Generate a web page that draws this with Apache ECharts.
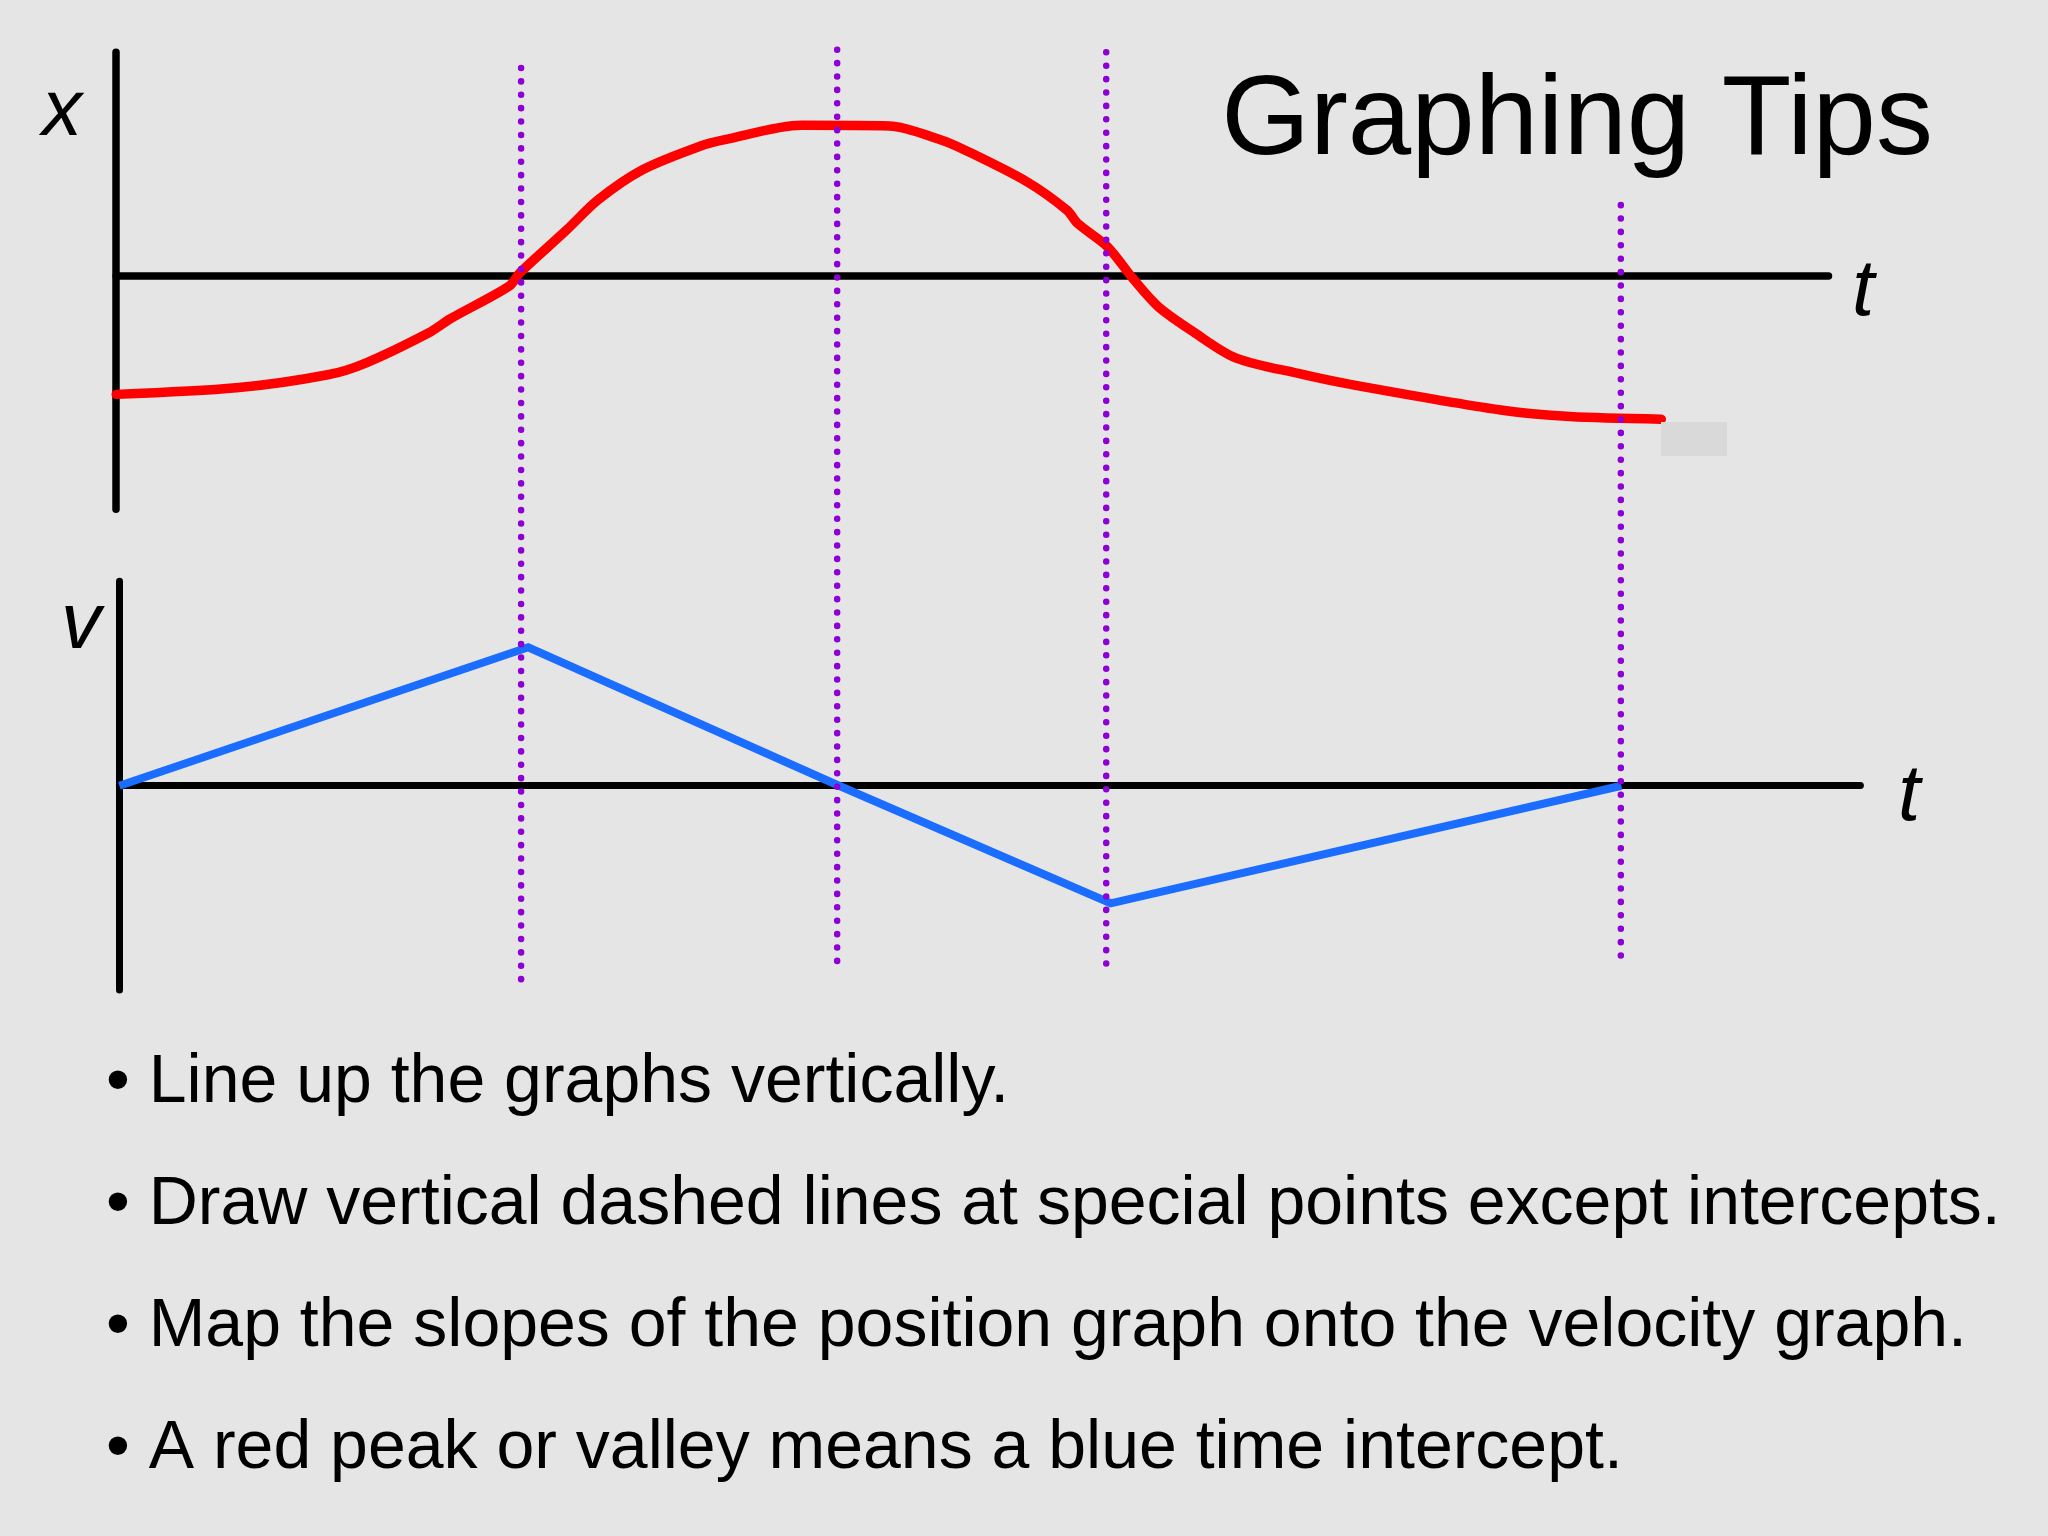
<!DOCTYPE html>
<html>
<head>
<meta charset="utf-8">
<script src="https://cdn.jsdelivr.net/npm/echarts@6/dist/echarts.min.js"></script>
<style>
html,body{margin:0;padding:0;background:#e5e5e5;}
#chart{width:2048px;height:1536px;}
</style>
</head>
<body>
<div id="chart"></div>
<script>
// Position graph (x vs t)
const posT = [0, 0.92, 1.62, 1.91, 2.39, 2.56, 3.01, 3.09, 3.45, 3.69, 4.03, 4.47, 4.66, 5.25, 5.92, 6.31, 6.50, 6.97, 7.28, 7.36, 7.59, 7.79, 7.98, 8.26, 8.57, 9.05, 9.43, 10.60, 11.13, 11.83];
const posX = [-0.91, -0.86, -0.76, -0.67, -0.44, -0.33, -0.08, 0.02, 0.35, 0.58, 0.81, 0.99, 1.04, 1.15, 1.145, 1.04, 0.96, 0.72, 0.50, 0.40, 0.22, -0.03, -0.24, -0.44, -0.63, -0.75, -0.83, -1.03, -1.08, -1.10];
// Velocity graph (v vs t)
const velT = [0, 3.13, 5.51, 7.59, 11.50];
const velV = [0, 1.06, 0, -0.90, 0];
// Vertical dotted guide lines (t, top, bottom) in position-graph units
const guideT = [3.10, 5.52, 7.58, 11.52];
const guideTop = [1.59, 1.73, 1.71, 0.54];
const guideBottom = [-5.44, -5.29, -5.34, -5.27];
// Texts
const titleText = 'Graphing Tips';
const bullets = [
  '\u2022 Line up the graphs vertically.',
  '\u2022 Draw vertical dashed lines at special points except intercepts.',
  '\u2022 Map the slopes of the position graph onto the velocity graph.',
  '\u2022 A red peak or valley means a blue time intercept.'
];
const axisLabels = {x: 'x', v: 'v', t: 't'};

const FONT = '"Liberation Sans", Arial, sans-serif';
const chart = echarts.init(document.getElementById('chart'));

const hiddenAxis = (extra) => Object.assign({
  axisTick: {show: false}, axisLabel: {show: false}, splitLine: {show: false}
}, extra);
const blackLine = (w) => ({show: true, onZero: true, lineStyle: {color: '#000', width: w}});

const series = [
  {
    type: 'line', xAxisIndex: 0, yAxisIndex: 0, z: 3,
    data: posT.map((t, i) => [t, posX[i]]),
    smooth: 0.3, showSymbol: false,
    lineStyle: {color: '#ff0000', width: 9.5, cap: 'round', join: 'round'}
  },
  {
    type: 'line', xAxisIndex: 1, yAxisIndex: 1, z: 3,
    data: velT.map((t, i) => [t, velV[i]]),
    showSymbol: false,
    lineStyle: {color: '#1a6dff', width: 8, join: 'miter'}
  }
];
guideT.forEach((t, i) => {
  series.push({
    type: 'line', xAxisIndex: 2, yAxisIndex: 2, z: 5,
    data: [[t, guideTop[i]], [t, guideBottom[i]]],
    showSymbol: false,
    lineStyle: {color: '#8e00d4', width: 6.5, type: [0.1, 13.3], cap: 'round'}
  });
});

const graphics = [
  {type: 'rect', shape: {x: 1661, y: 422, width: 66, height: 34}, style: {fill: '#d9d9d9'}, z: 10},
  {type: 'text', x: 1933, y: 123, style: {text: titleText, font: '114px ' + FONT, fill: '#000', textAlign: 'right', textVerticalAlign: 'middle'}},
  {type: 'text', x: 42, y: 113, style: {text: axisLabels.x, font: 'italic 80px ' + FONT, fill: '#000', textAlign: 'left', textVerticalAlign: 'middle'}},
  {type: 'text', x: 61, y: 626, style: {text: axisLabels.v, font: 'italic 80px ' + FONT, fill: '#000', textAlign: 'left', textVerticalAlign: 'middle'}},
  {type: 'text', x: 1852, y: 293, style: {text: axisLabels.t, font: 'italic 80px ' + FONT, fill: '#000', textAlign: 'left', textVerticalAlign: 'middle'}},
  {type: 'text', x: 1898, y: 798, style: {text: axisLabels.t, font: 'italic 80px ' + FONT, fill: '#000', textAlign: 'left', textVerticalAlign: 'middle'}}
];
const bulletY = [1083, 1205, 1327, 1449];
bullets.forEach((b, i) => {
  graphics.push({type: 'text', x: 106, y: bulletY[i], style: {text: b, font: '68px ' + FONT, fill: '#000', textAlign: 'left', textVerticalAlign: 'middle'}});
});

chart.setOption({
  backgroundColor: '#e5e5e5',
  animation: false,
  grid: [
    {left: 116.2, top: 52.2, width: 1712.3, height: 457.1},
    {left: 119.4, top: 581.2, width: 1741, height: 408.8},
    {left: 116.2, top: 0, width: 1712.3, height: 1536}
  ],
  xAxis: [
    hiddenAxis({type: 'value', gridIndex: 0, min: 0, max: 13.11, axisLine: blackLine(7.5)}),
    hiddenAxis({type: 'value', gridIndex: 1, min: 0, max: 13.33, axisLine: blackLine(7)}),
    hiddenAxis({type: 'value', gridIndex: 2, min: 0, max: 13.11, axisLine: {show: false}})
  ],
  yAxis: [
    hiddenAxis({type: 'value', gridIndex: 0, min: -1.79, max: 1.71, axisLine: {show: true, onZero: false, lineStyle: {color: '#000', width: 7.5}}}),
    hiddenAxis({type: 'value', gridIndex: 1, min: -1.564, max: 1.566, axisLine: {show: true, onZero: false, lineStyle: {color: '#000', width: 7}}}),
    hiddenAxis({type: 'value', gridIndex: 2, min: -9.651, max: 2.11, axisLine: {show: false}})
  ],
  series: series,
  graphic: graphics
});
</script>
</body>
</html>
